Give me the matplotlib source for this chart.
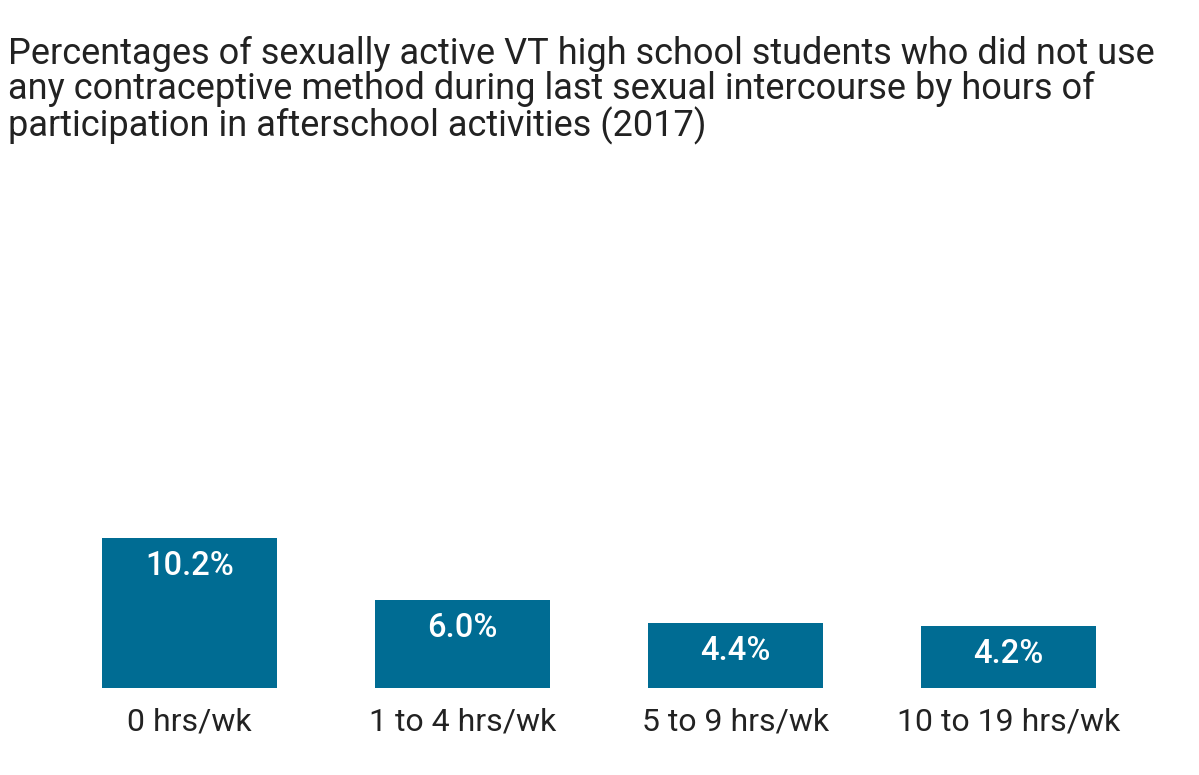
import matplotlib

matplotlib.use("Agg")

import matplotlib.pyplot as plt

plt.rcParams["font.family"] = ["Roboto", "DejaVu Sans"]

categories = ["0 hrs/wk", "1 to 4 hrs/wk", "5 to 9 hrs/wk", "10 to 19 hrs/wk"]
values = [10.2, 6.0, 4.4, 4.2]
labels = ["10.2%", "6.0%", "4.4%", "4.2%"]

title = ("Percentages of sexually active VT high school students who did not use\n"
         "any contraceptive method during last sexual intercourse by hours of\n"
         "participation in afterschool activities (2017)")

fig = plt.figure(figsize=(11.99, 7.75), dpi=100)
ax = fig.add_axes([0.0442, 0.1123, 0.9108, 0.668])

x = range(len(categories))
bars = ax.bar(x, values, width=0.641, color="#006C93")
for b, lab in zip(bars, labels):
    ax.annotate(lab, (b.get_x() + b.get_width() / 2, b.get_height()),
                xytext=(0, -20), textcoords="offset points",
                ha="center", va="center", color="white", fontsize=23.5,
                fontweight="medium")

ax.set_xlim(-0.5, 3.5)
ax.set_ylim(0, 35.2)
ax.set_xticks(list(x))
ax.set_xticklabels(categories, fontsize=23, color="#222222")
ax.tick_params(axis="x", length=0, pad=14)
ax.set_yticks([])
for s in ax.spines.values():
    s.set_visible(False)

fig.text(8 / 1199, 1 - 36 / 775, title, ha="left", va="top", fontsize=26,
         color="#222222", linespacing=0.98)

fig.savefig("out.png", dpi=100, facecolor="white")
